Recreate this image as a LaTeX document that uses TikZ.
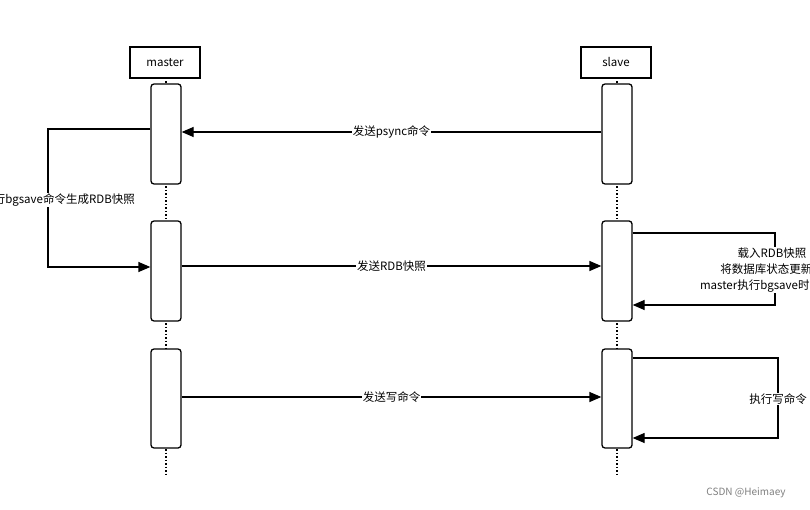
\documentclass[tikz,border=0pt]{standalone}
\usepackage{fontspec}
\setmainfont{Noto Sans CJK SC}
\usetikzlibrary{arrows.meta}
\begin{document}
\begin{tikzpicture}[x=1pt, y=-1pt, font=\fontsize{11.5}{14}\selectfont,
    head/.style={draw, line width=1.3pt, minimum width=70pt, minimum height=31pt, inner sep=0pt},
    act/.style={draw, line width=1.3pt, fill=white, rounded corners=3pt, minimum width=30pt, inner sep=0pt},
    msg/.style={line width=1.3pt, -{Triangle[length=12pt, width=10pt]}},
    lbl/.style={fill=white, inner sep=1pt, align=center},
    life/.style={line width=1.5pt, dotted}]
    % 背景と切り抜き
    \useasboundingbox (0,0) rectangle (810,510);
    \clip (0,0) rectangle (810,510);
    \fill[white] (0,0) rectangle (810,510);

    % ヘッダ
    \node[head] (M) at (165,62.5) {master};
    \node[head] (S) at (616,62.5) {slave};

    % ライフライン
    \draw[life] (166,78) -- (166,475);
    \draw[life] (617,78) -- (617,475);

    % アクティベーション
    \node[act, minimum height=100pt] (M1) at (166,134) {};
    \node[act, minimum height=100pt] (M2) at (166,271) {};
    \node[act, minimum height=99pt] (M3) at (166,398.5) {};
    \node[act, minimum height=100pt] (S1) at (617,134) {};
    \node[act, minimum height=100pt] (S2) at (617,271) {};
    \node[act, minimum height=99pt] (S3) at (617,398.5) {};

    % メッセージ
    \draw[msg] (S1.west |- 0,132) -- (M1.east |- 0,132) node[midway, lbl] {发送psync命令};
    \draw[msg] (M2.east |- 0,266) -- (S2.west |- 0,266) node[midway, lbl] {发送RDB快照};
    \draw[msg] (M3.east |- 0,397) -- (S3.west |- 0,397) node[midway, lbl] {发送写命令};

    % 自己メッセージ
    \coordinate (La) at (48,129);
    \coordinate (Lb) at (48,267);
    \draw[msg] (M1.west |- La) -- (La) -- (Lb) -- (M2.west |- Lb);
    \node[lbl, anchor=east] (Lt) at (136,200) {执行bgsave命令生成RDB快照};

    \coordinate (Ra) at (775,233);
    \coordinate (Rb) at (775,305);
    \draw[msg] (S2.east |- Ra) -- (Ra) -- (Rb) -- (S2.east |- Rb);
    \node[lbl, font=\fontsize{11.5}{16}\selectfont] (Rt) at (772,270) {载入RDB快照\\将数据库状态更新至\\master执行bgsave时的状态};

    \coordinate (Wa) at (778,358);
    \coordinate (Wb) at (778,438);
    \draw[msg] (S3.east |- Wa) -- (Wa) -- (Wb) -- (S3.east |- Wb);
    \node[lbl] (Wt) at (778,399) {执行写命令};

    % 透かし
    \node[text=gray, font=\fontsize{10}{12}\selectfont] (wm) at (746,493) {CSDN @Heimaey};
\end{tikzpicture}
\end{document}
